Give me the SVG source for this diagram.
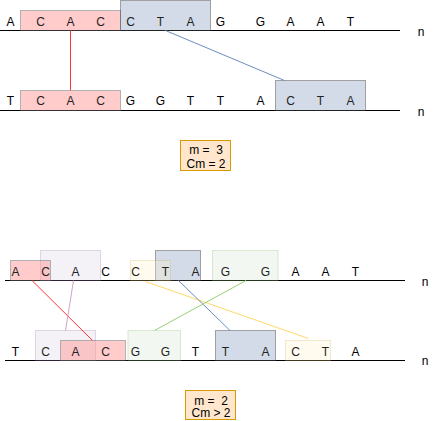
<svg xmlns="http://www.w3.org/2000/svg" width="436" height="421" viewBox="0 0 436 421">
<style>
text{font-family:"Liberation Sans",Arial,Helvetica,sans-serif;font-size:12px;fill:#000;text-anchor:middle}
.in{fill:#222}
.seq{stroke:#000;stroke-width:1;fill:none}
.red{fill:#ff9999;stroke:#666;opacity:0.5}
.blue{fill:#a9b9d3;stroke:#444;opacity:0.5}
.pur{fill:#e1d5e7;stroke:#9673a6;opacity:0.3}
.yel{fill:#fff2cc;stroke:#d6b656;opacity:0.3}
.grn{fill:#d5e8d4;stroke:#82b366;opacity:0.3}
.info{fill:#ffe6cc;stroke:#d79b00;stroke-width:1}
.pre{white-space:pre}
.c{fill:none;stroke-width:1}
</style>
<rect width="436" height="421" fill="#fff"/>
<g id="sequences">
<line class="seq" x1="0" y1="30.5" x2="400" y2="30.5"/>
<line class="seq" x1="0" y1="110.5" x2="400" y2="110.5"/>
<line class="seq" x1="5" y1="280.5" x2="405" y2="280.5"/>
<line class="seq" x1="5" y1="360.5" x2="405" y2="360.5"/>
<text x="421" y="35.5">n</text>
<text x="421" y="115.5">n</text>
<text x="425" y="286">n</text>
<text x="425" y="364.5">n</text>
</g>
<g id="boxes-top">
<rect id="r1-red" class="red" x="20.5" y="10.5" width="100" height="20"/>
<rect id="r1-blue" class="blue" x="120.5" y="0.5" width="90" height="30"/>
<rect id="r2-red" class="red" x="20.5" y="90.5" width="100" height="20"/>
<rect id="r2-blue" class="blue" x="275.5" y="80.5" width="90" height="30"/>
</g>
<g id="boxes-bottom">
<rect id="r3-pur" class="pur" x="40.5" y="250.5" width="60" height="30"/>
<rect id="r3-red" class="red" x="10.5" y="260.5" width="40" height="20"/>
<rect id="r3-blue" class="blue" x="155.5" y="250.5" width="45" height="30"/>
<rect id="r3-yel" class="yel" x="130.5" y="260.5" width="40" height="20"/>
<rect id="r3-grn" class="grn" x="212.5" y="250.5" width="65.5" height="30"/>
<rect id="r4-pur" class="pur" x="35.5" y="330.5" width="60" height="30"/>
<rect id="r4-red" class="red" x="60.5" y="340.5" width="65" height="20"/>
<rect id="r4-grn" class="grn" x="128" y="330.5" width="52.5" height="30"/>
<rect id="r4-blue" class="blue" x="215.5" y="330.5" width="60" height="30"/>
<rect id="r4-yel" class="yel" x="285.5" y="340.5" width="45" height="20"/>
</g>
<g id="row1">
<text x="10.5" y="26">A</text>
<text class="in" x="40.5" y="26">C</text>
<text class="in" x="70.5" y="26">A</text>
<text class="in" x="100.5" y="26">C</text>
<text class="in" x="130.5" y="26">C</text>
<text class="in" x="160.5" y="26">T</text>
<text class="in" x="190.5" y="26">A</text>
<text x="220.5" y="26">G</text>
<text x="260.5" y="26">G</text>
<text x="290.5" y="26">A</text>
<text x="320.5" y="26">A</text>
<text x="350.5" y="26">T</text>
</g>
<g id="row2">
<text x="10.5" y="104.5">T</text>
<text class="in" x="40.5" y="104.5">C</text>
<text class="in" x="70.5" y="104.5">A</text>
<text class="in" x="100.5" y="104.5">C</text>
<text x="130.5" y="104.5">G</text>
<text x="160.5" y="104.5">G</text>
<text x="190.5" y="104.5">T</text>
<text x="220.5" y="104.5">T</text>
<text x="260.5" y="104.5">A</text>
<text class="in" x="290.5" y="104.5">C</text>
<text class="in" x="320.5" y="104.5">T</text>
<text class="in" x="350.5" y="104.5">A</text>
</g>
<g id="row3">
<text class="in" x="15.5" y="275.5">A</text>
<text class="in" x="45.5" y="275.5">C</text>
<text class="in" x="75.5" y="275.5">A</text>
<text x="105.5" y="275.5">C</text>
<text class="in" x="135.5" y="275.5">C</text>
<text class="in" x="165.5" y="275.5">T</text>
<text class="in" x="195.5" y="275.5">A</text>
<text class="in" x="225.5" y="275.5">G</text>
<text class="in" x="265.5" y="275.5">G</text>
<text x="295.5" y="275.5">A</text>
<text x="325.5" y="275.5">A</text>
<text x="355.5" y="275.5">T</text>
</g>
<g id="row4">
<text x="15.5" y="355.5">T</text>
<text class="in" x="45.5" y="355.5">C</text>
<text class="in" x="75.5" y="355.5">A</text>
<text class="in" x="105.5" y="355.5">C</text>
<text class="in" x="135.5" y="355.5">G</text>
<text class="in" x="165.5" y="355.5">G</text>
<text x="195.5" y="355.5">T</text>
<text class="in" x="225.5" y="355.5">T</text>
<text class="in" x="265.5" y="355.5">A</text>
<text class="in" x="295.5" y="355.5">C</text>
<text class="in" x="325.5" y="355.5">T</text>
<text x="355.5" y="355.5">A</text>
</g>
<g id="info1">
<rect class="info" x="180.5" y="140.5" width="50" height="30"/>
<text class="pre" x="206" y="153.8">m =  3</text>
<text x="206" y="167.8">Cm = 2</text>
</g>
<g id="info2">
<rect class="info" x="185.5" y="390.5" width="50" height="29"/>
<text class="pre" x="211" y="404.5">m =  2</text>
<text x="211" y="417">Cm &gt; 2</text>
</g>
<g id="connectors">
<line class="c" stroke="#ff3333" x1="70.5" y1="30.5" x2="70.5" y2="90.5"/>
<line class="c" stroke="#6c8ebf" x1="165.5" y1="30.5" x2="284.5" y2="80.5"/>
<line class="c" stroke="#ff3333" x1="32" y1="280.5" x2="92.5" y2="340.5"/>
<line class="c" stroke="#d4a3c8" x1="73.5" y1="280.5" x2="65.5" y2="330.5"/>
<line class="c" stroke="#ffd966" x1="145.5" y1="281.5" x2="308.5" y2="338.5"/>
<line class="c" stroke="#6c8ebf" x1="178.5" y1="280.5" x2="230" y2="330.5"/>
<line class="c" stroke="#97d077" x1="246" y1="280.5" x2="154.5" y2="330.5"/>
</g>
</svg>
